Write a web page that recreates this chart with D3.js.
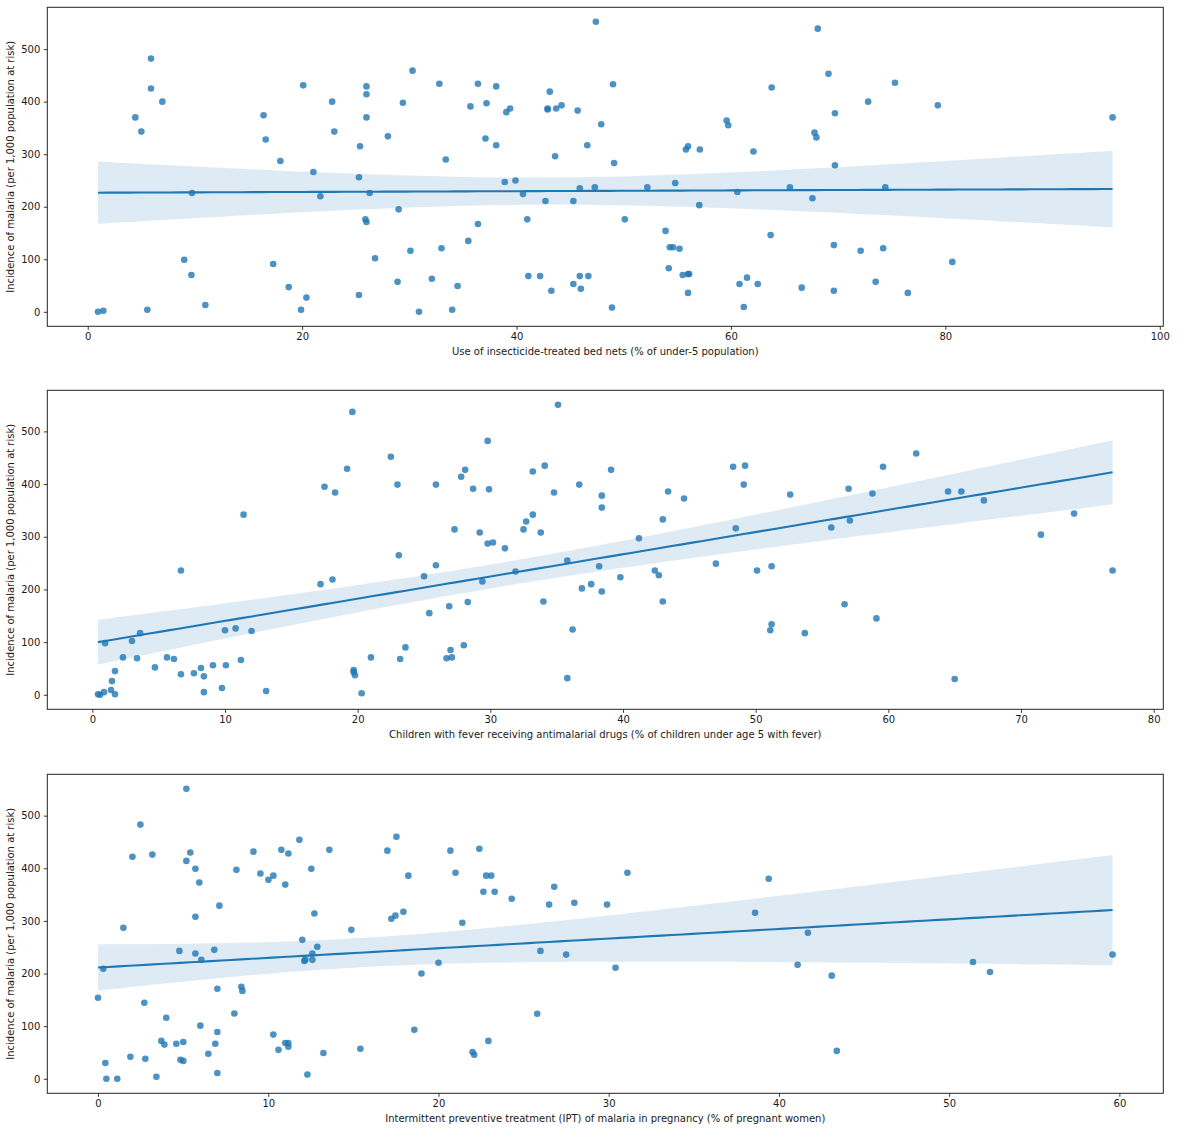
<!DOCTYPE html>
<html>
<head>
<meta charset="utf-8">
<script src="https://cdn.jsdelivr.net/npm/d3@7"></script>
<style>
  body { margin: 0; background: #fff; }
  svg text { font-family: "DejaVu Sans", sans-serif; fill: #1a1a1a; }
</style>
</head>
<body>
<div id="chart"></div>
<script>
// bed nets (% under-5) vs malaria incidence
const netsX = [0.96, 1.46, 5.9, 5.9, 6.96, 4.44, 5.0, 5.56, 9.73, 9.0, 9.67, 10.97, 16.4, 16.6, 17.97, 17.3, 18.75,
  20.1, 21.05, 21.7, 19.9, 20.4, 22.8, 23.0, 26.0, 26.0, 26.0, 25.4, 25.3, 26.3, 25.9, 26.0, 26.8, 25.3, 28.0, 29.0,
  28.9, 30.3, 29.4, 30.1, 30.9, 32.8, 33.0, 32.1, 33.4, 34.0, 34.5, 35.5, 35.7, 36.4, 37.2, 36.4, 37.1, 38.1, 38.1,
  38.9, 39.05, 39.4, 39.9, 40.6, 41.0, 41.1, 42.2, 42.7, 42.9, 42.9, 43.1, 43.25, 43.6, 43.7, 44.2, 45.3, 45.3, 45.7,
  45.9, 45.9, 46.0, 46.6, 46.7, 47.3, 47.4, 47.9, 49.0, 49.1, 48.9, 50.1, 52.2, 53.9, 54.2, 54.3, 54.6, 54.8, 55.2,
  55.5, 56.0, 56.1, 56.0, 55.8, 56.0, 57.1, 57.05, 59.6, 59.75, 60.6, 60.8, 61.5, 61.2, 62.1, 62.5, 63.8, 63.7, 65.5,
  66.6, 68.1, 69.1, 67.8, 67.97, 67.6, 69.7, 69.7, 69.6, 69.6, 72.8, 72.1, 73.5, 74.2, 74.4, 75.3, 76.5, 79.3, 80.65,
  95.6];
const netsY = [0, 2, 482, 425, 400, 370, 343, 4, 226, 99, 70, 13, 374, 328, 287, 91, 47,
  431, 266, 220, 4, 27, 400, 343, 429, 414, 370, 315, 256, 226, 176, 171, 102, 32, 334, 195,
  57, 459, 398, 116, 0, 434, 121, 63, 290, 4, 49, 135, 391, 434, 397, 167, 330, 429, 317,
  247, 380, 387, 250, 224, 176, 68, 68, 211, 387, 385, 419, 40, 296, 387, 393, 211, 53, 383,
  235, 68, 44, 317, 68, 237, 552, 357, 433, 283, 8, 176, 237, 154, 83, 123, 123, 245, 120,
  70, 72, 72, 36, 309, 315, 309, 203, 364, 355, 228, 53, 65, 9, 305, 53, 427, 146, 237,
  46, 539, 453, 341, 332, 216, 378, 279, 127, 40, 400, 116, 57, 121, 237, 436, 36, 393, 95,
  370];

// antimalarial drugs (% children with fever) vs malaria incidence
const drugsX = [0.43, 0.58, 0.88, 0.96, 1.41, 1.48, 1.71, 1.71, 2.31, 2.99, 3.37, 3.6, 4.72, 5.63, 6.15, 6.68, 6.68,
  7.66, 8.19, 8.41, 8.41, 9.09, 9.77, 10.0, 10.07, 10.8, 11.2, 11.4, 12.0, 13.1, 17.2, 17.5, 18.1, 18.3, 19.2, 19.6,
  19.7, 19.7, 19.8, 20.3, 21.0, 22.5, 23.0, 23.1, 23.2, 23.6, 25.0, 25.4, 25.9, 25.9, 26.7, 26.9, 27.0, 27.1, 27.3,
  27.8, 28.0, 28.1, 28.3, 28.7, 29.2, 29.4, 29.8, 29.8, 29.9, 30.2, 31.1, 31.9, 32.5, 32.7, 33.2, 33.2, 33.8, 34.0,
  34.1, 34.8, 35.1, 35.8, 35.8, 36.2, 36.7, 36.9, 37.6, 38.2, 38.4, 38.4, 38.4, 39.1, 39.8, 41.2, 42.4, 42.7, 43.0,
  43.0, 43.4, 44.6, 47.0, 48.3, 48.5, 49.1, 49.2, 50.1, 51.2, 51.2, 51.1, 52.6, 53.7, 55.7, 57.0, 57.1, 56.7, 58.8,
  59.1, 59.6, 62.1, 64.5, 65.5, 65.0, 67.2, 71.5, 74.0, 76.9];
const drugsY = [1, 0, 5, 98, 9, 26, 1, 45, 71, 102, 69.5, 117, 52, 71, 68, 236, 39,
  41, 51, 35, 5, 56, 13, 122.5, 56, 126, 66, 342, 121, 7, 210, 395, 219, 384, 429, 537,
  47, 43, 37, 3, 71, 452, 399, 265, 68, 90, 225, 155, 399, 246, 69.5, 168, 85, 71, 314,
  414, 94, 427, 176, 391, 308, 215, 482, 287, 390, 289, 278, 234, 314, 329, 424, 342, 308, 177,
  435, 384, 550.5, 255, 31.6, 124, 399, 202, 210, 244, 378, 355.5, 196, 427, 223, 297, 236, 227, 333,
  177, 386, 372.5, 249, 433, 316, 399, 435, 236, 244, 134, 122.5, 380, 117, 317.6, 391, 331, 172, 382,
  145, 433, 458, 386, 386, 30, 369, 304, 344, 236];

// IPT in pregnancy (% pregnant women) vs malaria incidence
const iptX = [0, 0.31, 0.43, 0.49, 1.13, 1.49, 1.9, 2.02, 2.49, 2.72, 2.78, 3.19, 3.43, 3.72, 3.9, 4.01, 4.6,
  4.78, 4.84, 5.01, 5.01, 5.19, 5.19, 5.42, 5.72, 5.72, 5.72, 5.95, 6.01, 6.07, 6.48, 6.83, 6.89, 7.01, 7.01, 7.01,
  7.13, 8.01, 8.13, 8.42, 8.48, 9.13, 9.54, 10.01, 10.3, 10.3, 10.6, 10.77, 11.0, 11.0, 11.18, 11.18, 11.18, 11.83,
  12.0, 12.12, 12.18, 12.3, 12.53, 12.59, 12.59, 12.71, 12.88, 13.24, 13.59, 14.88, 15.41, 17.0, 17.23, 17.47, 17.53,
  17.94, 18.23, 18.58, 19.0, 20.0, 20.7, 21.0, 21.4, 22.0, 22.1, 22.4, 22.64, 22.8, 22.93, 23.1, 23.3, 24.3, 25.8,
  25.99, 26.5, 26.8, 27.5, 27.98, 29.9, 30.4, 31.1, 38.6, 39.4, 41.7, 41.1, 43.1, 43.4, 51.4, 52.4, 59.6];
const iptY = [154, 209, 30, 0, 0, 287, 42, 422, 483, 144.5, 38, 426, 4, 72, 65, 116, 66.5,
  243, 36, 70, 34, 551, 414, 430, 399, 308, 238, 373, 101, 226, 47.5, 245, 66.5, 171, 89, 11,
  329, 124, 397, 175, 167, 431.6, 390, 378, 386, 84, 55, 435, 369, 68, 428, 68, 61, 454,
  264, 224, 226, 8, 399, 238, 226, 314, 251, 49, 435, 283, 57, 433.5, 304, 310, 460,
  317.5, 386, 93, 200, 220.5, 433.5, 391.6, 296.6, 51, 45.6, 437, 355.5, 386, 72, 386, 355.5, 342, 123.6,
  243, 331, 365, 236, 334.6, 331, 211, 391.6, 315.6, 380, 277.6, 216.7, 196, 53, 222, 203, 236];

// tick labels
const netsTicks = [0, 20, 40, 60, 80, 100];
const drugsTicks = [0, 10, 20, 30, 40, 50, 60, 70, 80];
const iptTicks = [0, 10, 20, 30, 40, 50, 60];
const incidenceTicks = [0, 100, 200, 300, 400, 500];

const yLabel = "Incidence of malaria (per 1,000 population at risk)";
const panels = [
  { xs: netsX, ys: netsY, ticks: netsTicks, label: "Use of insecticide-treated bed nets (% of under-5 population)" },
  { xs: drugsX, ys: drugsY, ticks: drugsTicks, label: "Children with fever receiving antimalarial drugs (% of children under age 5 with fever)" },
  { xs: iptX, ys: iptY, ticks: iptTicks, label: "Intermittent preventive treatment (IPT) of malaria in pregnancy (% of pregnant women)" }
];

const width = 1177, height = 1132;
const margin = { left: 47.3, right: 13.7 };
const axTops = [7.3, 390.3, 774.3];
const axH = 319;
const blue = "#1f77b4";

const svg = d3.select("#chart").append("svg")
  .attr("width", width)
  .attr("height", height);

// matplotlib style autoscale: 5% margin either side
function padded(ext) {
  const r = ext[1] - ext[0];
  return [ext[0] - 0.05 * r, ext[1] + 0.05 * r];
}

// OLS fit + 95% confidence band for the mean
function fit(xs, ys) {
  const n = xs.length;
  const mx = d3.mean(xs), my = d3.mean(ys);
  let sxx = 0, sxy = 0;
  xs.forEach((x, i) => { sxx += (x - mx) ** 2; sxy += (x - mx) * (ys[i] - my); });
  const b = sxy / sxx, a = my - b * mx;
  let sse = 0;
  xs.forEach((x, i) => { sse += (ys[i] - a - b * x) ** 2; });
  const s = Math.sqrt(sse / (n - 2));
  const t = 1.977;
  const [x0, x1] = d3.extent(xs);
  return d3.range(100).map(k => {
    const x = x0 + (x1 - x0) * k / 99;
    const yh = a + b * x;
    const se = s * Math.sqrt(1 / n + (x - mx) ** 2 / sxx);
    return { x, y: yh, lo: yh - t * se, hi: yh + t * se };
  });
}

panels.forEach((p, idx) => {
  const top = axTops[idx];
  const g = svg.append("g");

  const x = d3.scaleLinear()
    .domain(padded(d3.extent(p.xs)))
    .range([margin.left, width - margin.right]);
  const y = d3.scaleLinear()
    .domain(padded(d3.extent(p.ys)))
    .range([top + axH, top]);

  // points
  g.append("g")
    .selectAll("circle")
    .data(p.xs.map((v, i) => [v, p.ys[i]]))
    .join("circle")
    .attr("cx", d => x(d[0]))
    .attr("cy", d => y(d[1]))
    .attr("r", 3.3)
    .attr("fill", blue)
    .attr("fill-opacity", 0.8);

  // regression band + line
  const reg = fit(p.xs, p.ys);
  g.append("path")
    .datum(reg)
    .attr("fill", blue)
    .attr("fill-opacity", 0.15)
    .attr("d", d3.area().x(d => x(d.x)).y0(d => y(d.lo)).y1(d => y(d.hi)));
  g.append("path")
    .datum(reg)
    .attr("fill", "none")
    .attr("stroke", blue)
    .attr("stroke-width", 2.1)
    .attr("d", d3.line().x(d => x(d.x)).y(d => y(d.y)));

  // axes
  const xAxis = g.append("g")
    .attr("transform", `translate(0,${top + axH})`)
    .call(d3.axisBottom(x).tickValues(p.ticks).tickSize(3.5).tickPadding(3.5).tickSizeOuter(0));
  const yAxis = g.append("g")
    .attr("transform", `translate(${margin.left},0)`)
    .call(d3.axisLeft(y).tickValues(incidenceTicks).tickSize(3.5).tickPadding(3.5).tickSizeOuter(0));
  [xAxis, yAxis].forEach(ax => {
    ax.select(".domain").remove();
    ax.selectAll("line").attr("stroke", "#222").attr("stroke-width", 0.9);
    ax.selectAll("text").attr("font-size", 10).attr("fill", "#1a1a1a");
  });

  // frame
  g.append("rect")
    .attr("x", margin.left)
    .attr("y", top)
    .attr("width", width - margin.left - margin.right)
    .attr("height", axH)
    .attr("fill", "none")
    .attr("stroke", "#222")
    .attr("stroke-width", 1);

  // titles
  g.append("text")
    .attr("x", (margin.left + width - margin.right) / 2)
    .attr("y", top + axH + 28.5)
    .attr("text-anchor", "middle")
    .attr("font-size", 10)
    .text(p.label);
  g.append("text")
    .attr("transform", `translate(14,${top + axH / 2}) rotate(-90)`)
    .attr("text-anchor", "middle")
    .attr("font-size", 10)
    .text(yLabel);
});
</script>
</body>
</html>
